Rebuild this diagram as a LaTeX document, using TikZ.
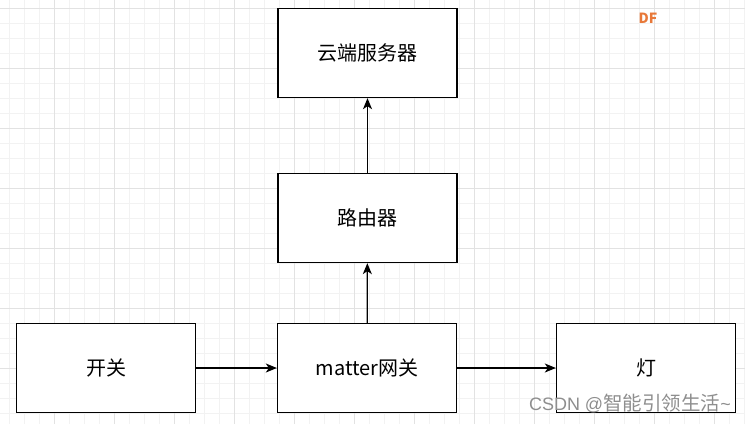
\documentclass[tikz,border=0pt]{standalone}
\usepackage{fontspec}
\newfontfamily\cjk{Noto Sans CJK SC}
\newfontfamily\marklatin{Liberation Sans}
\usetikzlibrary{arrows.meta}
\definecolor{minorgrid}{HTML}{F2F2F2}
\definecolor{majorgrid}{HTML}{E2E2E2}
\definecolor{dforange}{HTML}{E8793A}
\definecolor{markgrey}{HTML}{8E8E8E}

\begin{document}
\begin{tikzpicture}[x=1pt,y=-1pt,
		box/.style={draw,line width=1.3pt,fill=white,minimum width=179pt,minimum height=89pt,font=\cjk\fontsize{20}{20}\selectfont},
		link/.style={line width=1.3pt,-{Stealth[length=11pt,width=9pt,inset=3pt]}}]
				\useasboundingbox (0,0) rectangle (745,424);
				\fill[white] (0,0) rectangle (745,424);
				% grid
				\foreach \x in {9,24,...,744} \draw[minorgrid,line width=0.8pt] (\x,0) -- (\x,424);
				\foreach \y in {8,23,...,423} \draw[minorgrid,line width=0.8pt] (0,\y) -- (745,\y);
				\foreach \x in {54,114,...,714} \draw[majorgrid,line width=1pt] (\x,0) -- (\x,424);
				\foreach \y in {8,68,...,368} \draw[majorgrid,line width=1pt] (0,\y) -- (745,\y);
				% boxes
				\node[box] (cloud) at (367.5,53) {云端服务器};
				\node[box] (router) at (367.5,218) {路由器};
				\node[box] (switch) at (106,368) {开关};
				\node[box] (gateway) at (367,368) {matter网关};
				\node[box] (lamp) at (646,368) {灯};
				% links
				\draw[link] (switch) -- (gateway);
				\draw[link] (gateway) -- (lamp);
				\draw[link] (gateway) -- (router);
				\draw[link] (router) -- (cloud);
				% marks
				\node[font=\cjk\bfseries\fontsize{14}{14}\selectfont,text=dforange] (df) at (648,18) {DF};
				\node[font=\cjk\fontsize{19.5}{19.5}\selectfont,text=markgrey,anchor=east,inner sep=0pt] (mark) at (731,404) {{\marklatin\fontsize{18}{18}\selectfont CSDN @}智能引领生活{\marklatin\fontsize{18}{18}\selectfont\textasciitilde}};
			\end{tikzpicture}
\end{document}
